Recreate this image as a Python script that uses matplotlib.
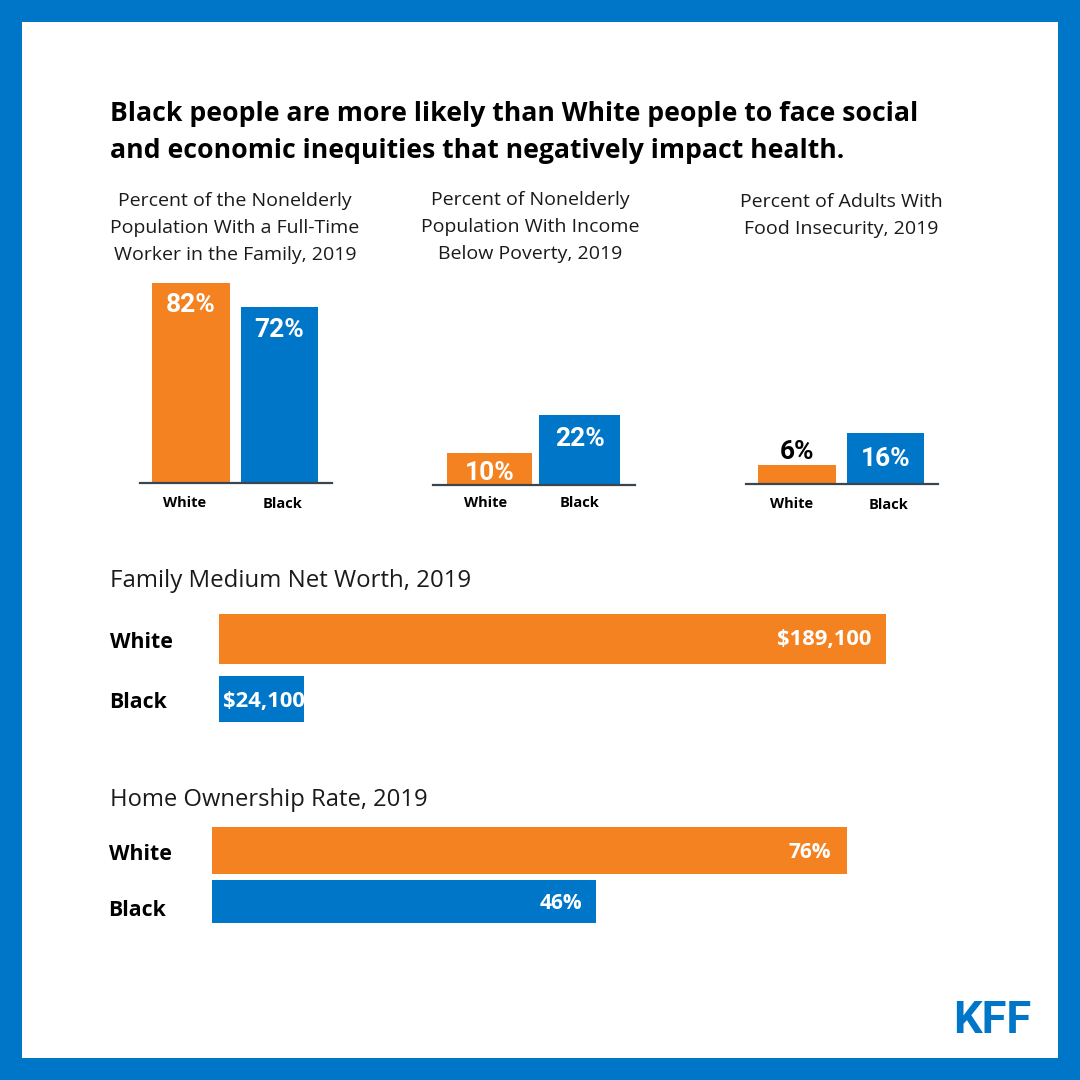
import matplotlib
matplotlib.use("Agg")
import matplotlib.pyplot as plt
from matplotlib.patches import Rectangle

BLUE = '#0076C9'
ORANGE = '#F58220'
LINE = '#3A4550'
SIZE = 1080

# ---- data ----
groups = ['White', 'Black']
worker_pct = [82, 72]
poverty_pct = [10, 22]
food_pct = [6, 16]
net_worth = [189100, 24100]
home_pct = [76, 46]

title = ('Black people are more likely than White people to face social\n'
         'and economic inequities that negatively impact health.')
worker_title = 'Percent of the Nonelderly\nPopulation With a Full-Time\nWorker in the Family, 2019'
poverty_title = 'Percent of Nonelderly\nPopulation With Income\nBelow Poverty, 2019'
food_title = 'Percent of Adults With\nFood Insecurity, 2019'
worth_title = 'Family Medium Net Worth, 2019'
home_title = 'Home Ownership Rate, 2019'

plt.rcParams['font.family'] = ['Open Sans', 'DejaVu Sans']

fig = plt.figure(figsize=(SIZE / 100, SIZE / 100), dpi=100, facecolor=BLUE)
fig.add_artist(Rectangle((22 / SIZE, 22 / SIZE), 1036 / SIZE, 1036 / SIZE,
                         transform=fig.transFigure, facecolor='white', edgecolor='none', zorder=-1))


def px_text(x, y, s, **kw):
    """text placed with pixel coordinates, y counted from the top"""
    return fig.text(x / SIZE, 1 - y / SIZE, s, **kw)


def px_axes(left, top, right, bottom):
    ax = fig.add_axes([left / SIZE, 1 - bottom / SIZE, (right - left) / SIZE, (bottom - top) / SIZE])
    ax.axis('off')
    return ax


def column_panel(values, left, right, base, top, scale, x0, step, width, label_colors, label_offset):
    # one unit of x is the distance between two bars
    ax = px_axes(left, top, right, base)
    ax.set_xlim((left - x0) / step, (right - x0) / step)
    ax.set_ylim(0, (base - top) / scale)
    ax.bar(range(len(values)), values, width=width, color=[ORANGE, BLUE])
    ax.axhline(0, color=LINE, lw=1.6, clip_on=False)
    for i, v in enumerate(values):
        ax.annotate(f'{v}%', (i, v), xytext=(0, label_offset[i]), textcoords='offset pixels',
                    ha='center', va='center', color=label_colors[i], fontsize=19,
                    fontweight='bold', family='Roboto')
    return ax


def bar_panel(values, left, right, top, bottom, xmax, centers, heights, labels, label_inset, label_dy, size):
    ax = px_axes(left, top, right, bottom)
    ax.set_xlim(0, xmax)
    ax.set_ylim(bottom, top)
    ax.barh(centers, values, height=heights, color=[ORANGE, BLUE])
    for v, c, s, inset, dy in zip(values, centers, labels, label_inset, label_dy):
        ax.annotate(s, (v, c), xytext=(-inset, -dy), textcoords='offset pixels', ha='right',
                    va='center', color='white', fontsize=size, fontweight='bold')
    return ax


# ---- headline ----
px_text(110, 132.5, title, fontsize=19.2, fontweight='bold', color='black', linespacing=1.53,
        ha='left', va='center')

# ---- three column panels ----
column_panel(worker_pct, 140, 332, 483, 270, 2.44, 191, 88.5, 0.88, ['white', 'white'], [-22, -23])
column_panel(poverty_pct, 433, 635, 485, 400, 3.2, 489.5, 90, [0.945, 0.9], ['white', 'white'], [-20, -24])
column_panel(food_pct, 746, 938, 484, 420, 3.2, 797, 88.5, 0.88, ['black', 'white'], [13, -26])

for x, y, s in [(235, 228, worker_title), (530, 227, poverty_title), (841, 215.5, food_title)]:
    px_text(x, y, s, fontsize=14, ha='center', va='center', color='#1a1a1a', linespacing=1.64)

for x, y, s in [(185, 503, groups[0]), (282.5, 504, groups[1]),
                (485.5, 503, groups[0]), (579.5, 503, groups[1]),
                (791.5, 504, groups[0]), (889, 505, groups[1])]:
    px_text(x, y, s, fontsize=10.5, fontweight='bold', ha='center', va='center', color='black')

# ---- net worth ----
px_text(110, 581, worth_title, fontsize=17.3, ha='left', va='center', color='#1a1a1a')
bar_panel(net_worth, 219, 886, 600, 740, max(net_worth), [639, 699], [50, 46],
          [f'${v:,}' for v in net_worth], [15, -1], [0, 2], 15.8)
px_text(110, 642.5, groups[0], fontsize=15.3, fontweight='bold', ha='left', va='center', color='black')
px_text(109.5, 703, groups[1], fontsize=15.3, fontweight='bold', ha='left', va='center', color='black')

# ---- home ownership ----
px_text(110, 800, home_title, fontsize=17.1, ha='left', va='center', color='#1a1a1a')
bar_panel(home_pct, 212, 847, 815, 935, max(home_pct), [850.5, 901.5], [47, 43],
          [f'{v}%' for v in home_pct], [16, 14], [2, 2], 15)
px_text(109, 855, groups[0], fontsize=15.3, fontweight='bold', ha='left', va='center', color='black')
px_text(108.5, 911, groups[1], fontsize=15.3, fontweight='bold', ha='left', va='center', color='black')

# ---- logo ----
px_text(992, 1021, 'KFF', fontsize=32.5, fontweight='bold', family='Roboto', color=BLUE,
        ha='center', va='center')

fig.savefig('out.png', dpi=100, facecolor=BLUE)
